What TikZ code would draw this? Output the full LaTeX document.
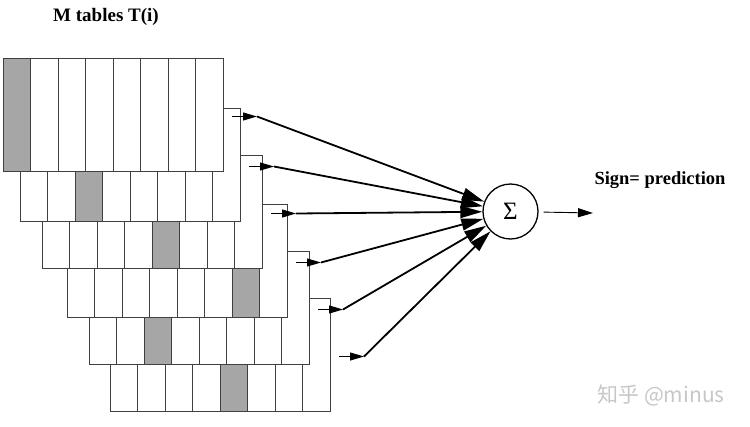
\documentclass[tikz,border=0pt]{standalone}
\usepackage{fontspec}
\setmainfont{Liberation Serif}
\newfontfamily\cjkfont{Noto Sans CJK SC}
\usetikzlibrary{arrows.meta}

\begin{document}
\begin{tikzpicture}[x=1pt, y=-1pt,
		cellline/.style={draw=black!75, line width=0.9pt},
		smallarrow/.style={-{Triangle[length=14pt,width=8pt]}, line width=0.9pt},
		bigarrow/.style={-{Triangle[length=22pt,width=12pt]}, line width=1.8pt}]
	\useasboundingbox (0,0) rectangle (750,426);
	\node[font=\bfseries\fontsize{19}{19}\selectfont] (title) at (106,17) {M tables T(i)};
	% tables, from the back one to the front one
	\foreach \i/\x/\y/\g in {6/110/298/4, 5/89/251/2, 4/67/204/6, 3/42/155/4, 2/20/108/2, 1/3/58/0} {
		\fill[white] (\x,\y) rectangle (\x+220,\y+113);
		\fill[black!35] (\x+27.5*\g,\y) rectangle (\x+27.5*\g+27.5,\y+113);
		\foreach \c in {0,...,7} {
			\draw[cellline] (\x+27.5*\c,\y) rectangle (\x+27.5*\c+27.5,\y+113);
		}
		\coordinate (tail\i) at (\x+229,\y+58.5);
		\coordinate (tip\i) at (\x+254,\y+58.5);
	}
	\node[circle, draw, line width=1.3pt, minimum size=55pt, inner sep=0pt,
		font=\fontsize{25}{25}\selectfont] (sigma) at (510.5,211.5) {Σ};
	\foreach \i in {1,...,6} {
		\draw[smallarrow] (tail\i) -- (tip\i);
		\draw[bigarrow] (tip\i) -- (sigma);
	}
	\coordinate (out) at (593,213);
	\draw[-{Triangle[length=15pt,width=9pt]}, line width=0.9pt, shorten <=5pt] (sigma) -- (out);
	\node[font=\bfseries\fontsize{18.5}{18.5}\selectfont] (sign) at (660,180) {Sign= prediction};
%	watermark
	\node[text=black!22, font=\cjkfont\fontsize{21}{21}\selectfont] (mark) at (661,395) {知乎 @minus};
\end{tikzpicture}
\end{document}
